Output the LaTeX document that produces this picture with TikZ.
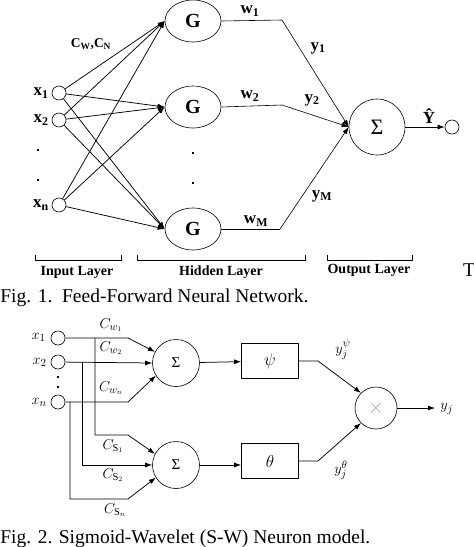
\documentclass[tikz,border=0pt]{standalone}
\usepackage{fontspec}
\setmainfont{Liberation Serif}
\usetikzlibrary{arrows.meta, calc, shapes.geometric}

\begin{document}
\begin{tikzpicture}[x=1pt, y=-1pt, >={Latex[length=7pt,width=5pt]}, line join=round, line width=0.75pt,
	inp/.style={circle, draw, line width=0.6pt, minimum size=14pt, inner sep=0pt},
	gnode/.style={ellipse, draw, line width=0.6pt, minimum width=56pt, minimum height=42pt, inner sep=0pt,
		font=\bfseries\fontsize{20}{20}\selectfont},
	sumbig/.style={circle, draw, line width=0.6pt, minimum size=56pt, inner sep=0pt, font=\fontsize{22}{22}\selectfont},
	sumsmall/.style={circle, draw, line width=0.6pt, minimum size=47pt, inner sep=0pt, font=\fontsize{15}{15}\selectfont},
	blockbox/.style={rectangle, draw, line width=0.7pt, minimum width=57pt, minimum height=35pt, inner sep=0pt,
		font=\fontsize{16}{16}\selectfont},
	dotmark/.style={rectangle, fill, minimum size=2.6pt, inner sep=0pt},
	blab/.style={inner sep=1pt, font=\bfseries\fontsize{17}{17}\selectfont},
	slab/.style={inner sep=1pt, font=\fontsize{15}{15}\selectfont},
	layerlab/.style={inner sep=0pt, anchor=base, font=\bfseries\fontsize{14}{14}\selectfont},
	caption/.style={inner sep=0pt, anchor=base west, font=\fontsize{19.5}{20}\selectfont}]
	
	\useasboundingbox (0,0) rectangle (474,547);
	
	%========================
	% Fig. 1: feed-forward network
	%========================
	\begin{scope}
		% input layer
		\node[inp] (x1) at (59,93) {};
		\node[inp] (x2) at (59,120) {};
		\node[inp] (xn) at (59,205) {};
		\node[blab, anchor=east] (lx1) at (50,93) {x\textsubscript{1}};
		\node[blab, anchor=east] (lx2) at (50,120) {x\textsubscript{2}};
		\node[blab, anchor=east] (lxn) at (50,205) {x\textsubscript{n}};
		\node[dotmark] (d1) at (38,150) {};
		\node[dotmark] (d2) at (38,180) {};
		
		% hidden layer
		\node[gnode] (g1) at (193,21) {G};
		\node[gnode] (g2) at (193,107) {G};
		\node[gnode] (gm) at (193,229) {G};
		\node[dotmark] (d3) at (193,153) {};
		\node[dotmark] (d4) at (193,183) {};
		\node[inner sep=0pt, font=\bfseries\fontsize{13.5}{13.5}\selectfont] (cw) at (91,44)
		{C\textsubscript{W},C\textsubscript{N}};
		
		% full connections
		\foreach \i in {x1,x2,xn}
		\foreach \j in {g1,g2,gm}
		\draw[->] (\i) -- (\j.west);
		
		% output layer
		\node[sumbig] (sig) at (377,127) {Σ};
		\node[inp] (yout) at (452,127) {};
		\coordinate (k1) at (282,20);
		\coordinate (k2) at (282,105);
		\coordinate (km) at (280,229);
		\draw[semithick] (g1.east) -- (k1);
		\draw[semithick] (g2.east) -- (k2);
		\draw[semithick] (gm.east) -- (km);
		\draw[semithick, ->] (k1) -- (sig.west);
		\draw[semithick, ->] (k2) -- (sig.west);
		\draw[semithick, ->] (km) -- (sig.west);
		\draw[->] (sig) -- (yout);
		\node[blab] (lw1) at (250,11) {w\textsubscript{1}};
		\node[blab] (lw2) at (250,96) {w\textsubscript{2}};
		\node[blab] (lwm) at (256,221) {w\textsubscript{M}};
		\node[blab] (ly1) at (318,48) {y\textsubscript{1}};
		\node[blab] (ly2) at (312,100) {y\textsubscript{2}};
		\node[blab] (lym) at (322,196) {y\textsubscript{M}};
		\node[blab] (lyhat) at (429,116) {Ŷ};
		
		% layer brackets
		\draw (35,255) -- (35,260) -- (121,260) -- (121,255);
		\draw (137,255) -- (137,260) -- (305,260) -- (305,255);
		\draw (327,255) -- (327,260) -- (412,260) -- (412,255);
		\node[layerlab] (linput) at (77,275) {Input Layer};
		\node[layerlab] (lhidden) at (221,275) {Hidden Layer};
		\node[layerlab] (loutput) at (369,273) {Output Layer};
		\node[caption, anchor=base] (tcut) at (469,276) {T};
		\node[caption] (cap1) at (0,302) {Fig. 1.\ \ Feed-Forward Neural Network.};
	\end{scope}
	
	%========================
	% Fig. 2: S-W neuron
	%========================
	\begin{scope}
		% inputs
		\node[inp] (a1) at (58,338) {};
		\node[inp] (a2) at (58,362) {};
		\node[inp] (an) at (58,402) {};
		\node[slab, anchor=east] (la1) at (47,337) {$x_1$};
		\node[slab, anchor=east] (la2) at (48,362) {$x_2$};
		\node[slab, anchor=east] (lan) at (48,402) {$x_n$};
		\node[dotmark] (d5) at (58,377) {};
		\node[dotmark] (d6) at (58,387) {};
		
		% summing junctions and blocks
		\node[sumsmall] (s1) at (176,363) {Σ};
		\node[sumsmall] (s2) at (176,465) {Σ};
		\node[blockbox] (psi) at (270,361) {$\psi$};
		\node[blockbox] (theta) at (270,461) {$\theta$};
		\node[circle, draw, line width=0.6pt, minimum size=42pt, inner sep=0pt] (mul) at (376,408)
		{\color{gray!70}\fontsize{22}{22}\selectfont$\times$};
		
		% wavelet branch
		\coordinate (p1) at (128,338);
		\coordinate (pn) at (128,402);
		\draw[->] (a1) -- (p1) -- (s1.152);
		\draw[->] (a2) -- (s1.west);
		\draw[->] (an) -- (pn) -- (s1.212);
		
		% sigmoid branch
		\coordinate (b1) at (95,338);
		\coordinate (b2) at (82,362);
		\coordinate (bn) at (70,402);
		\coordinate (q1) at (128,435);
		\coordinate (qn) at (128,499);
		\draw[->] (b1) |- (q1) -- (s2.152);
		\draw[->] (b2) |- (s2.west);
		\draw[->] (bn) |- (qn) -- (s2.212);
		
		\draw[->] (s1) -- (psi);
		\draw[->] (s2.east) -- (s2.east -| theta.west);
		
		% product
		\coordinate (r1) at (318,361);
		\coordinate (r2) at (318,461);
		\coordinate (yj) at (435,408);
		\draw[->] (psi) -- (r1) -- (mul.north west);
		\draw[->] (theta) -- (r2) -- (mul.south west);
		\draw[->] (mul) -- (yj);
		
		% labels
		\node[slab] (lcw1) at (111,325) {$C_{w_1}$};
		\node[slab] (lcw2) at (111,348) {$C_{w_2}$};
		\node[slab] (lcwn) at (111,388) {$C_{w_n}$};
		\node[slab] (lcs1) at (113,446) {$C_{\mathrm{S}_1}$};
		\node[slab] (lcs2) at (113,475) {$C_{\mathrm{S}_2}$};
		\node[slab] (lcsn) at (115,510) {$C_{\mathrm{S}_n}$};
		\node[slab] (lypsi) at (343,349) {$y_j^{\psi}$};
		\node[slab] (lytheta) at (341,470) {$y_j^{\theta}$};
		\node[slab, anchor=west] (lyj) at (439,409) {$y_j$};
		\node[caption] (cap2) at (0,543) {Fig. 2. Sigmoid-Wavelet (S-W) Neuron model.};
	\end{scope}
	
\end{tikzpicture}
\end{document}
